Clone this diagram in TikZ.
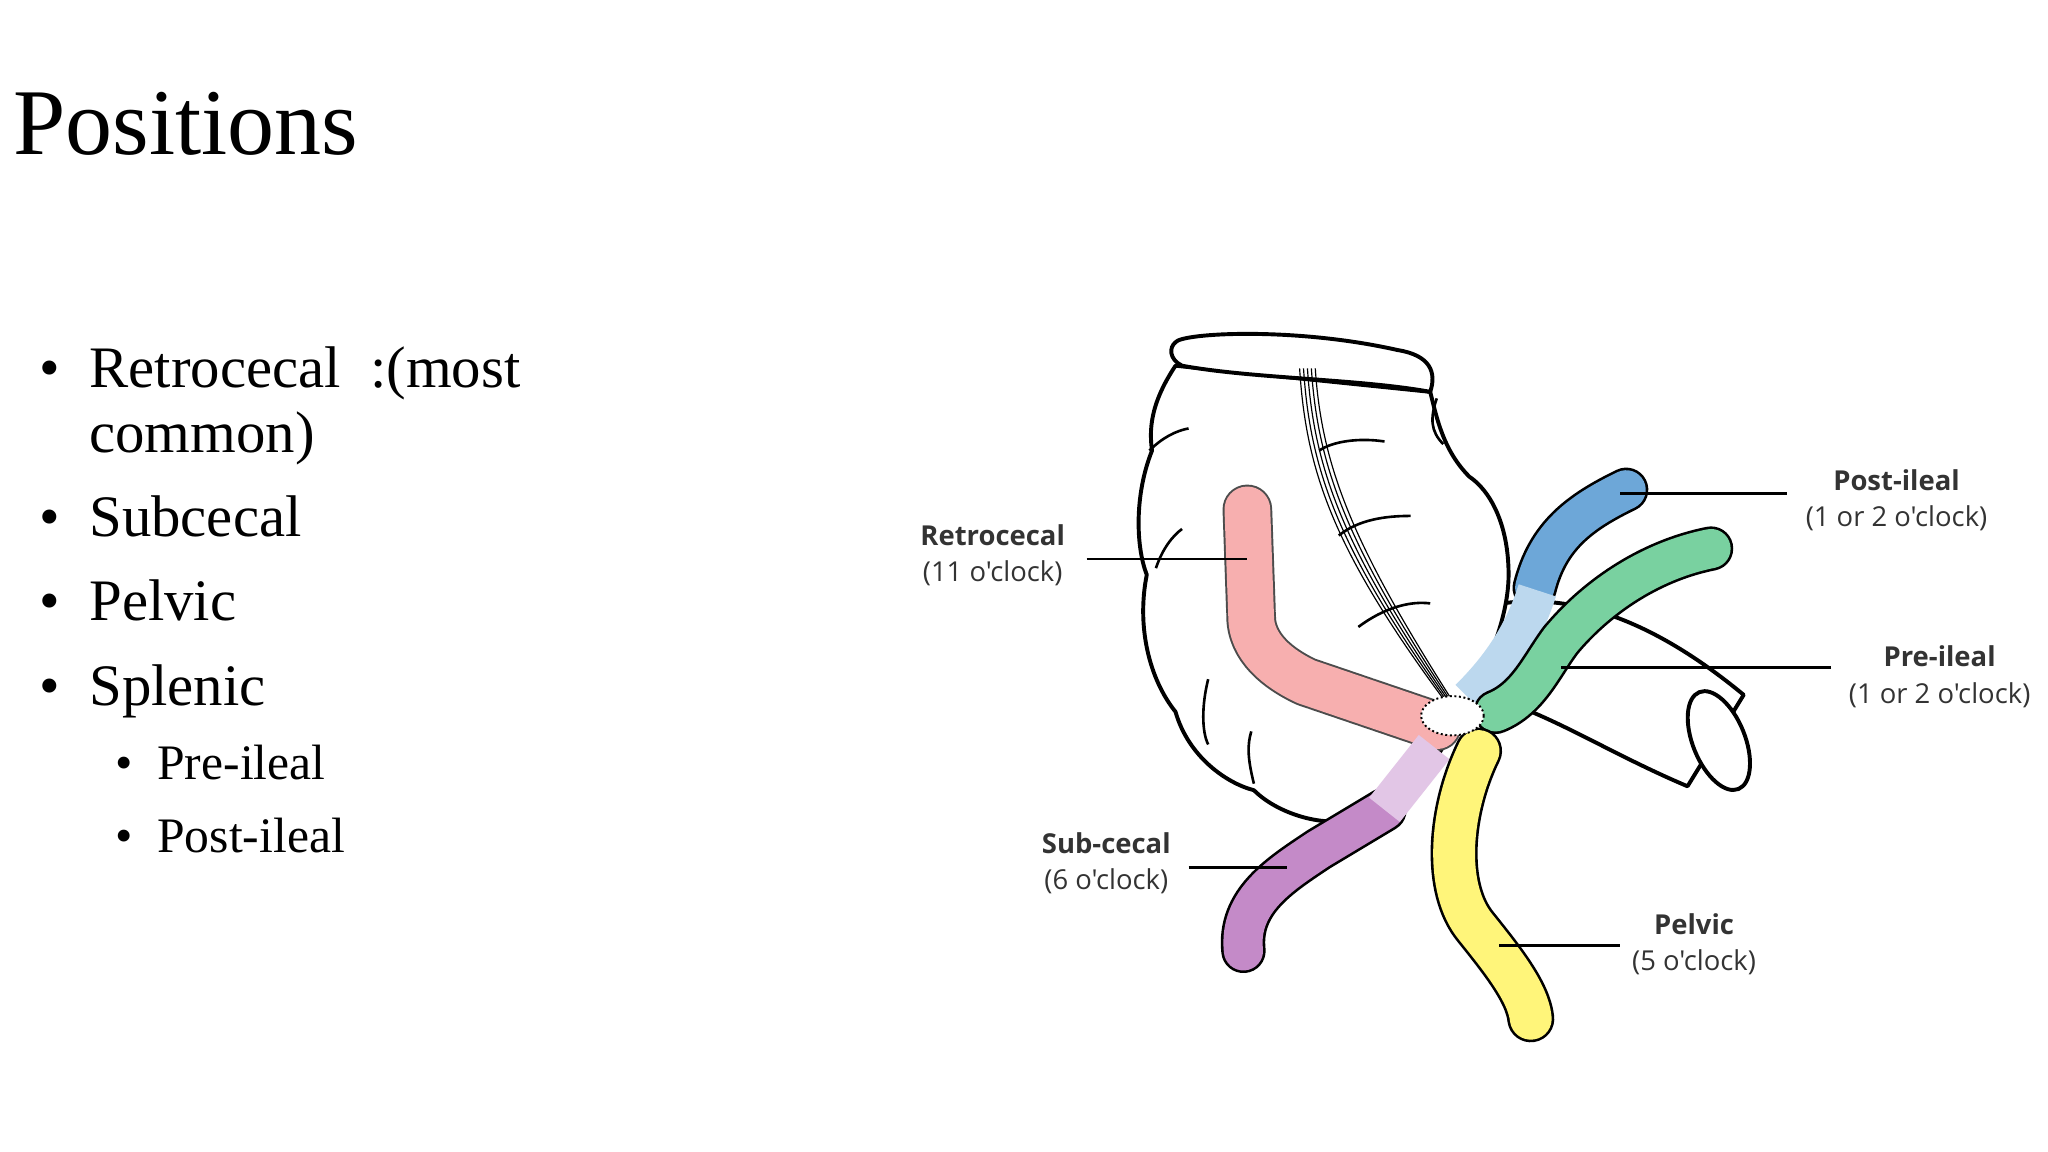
\documentclass[tikz,border=0pt]{standalone}
\usepackage{fontspec}
\setmainfont{Liberation Serif}
\newfontfamily\lab{Open Sans}
\definecolor{cpink}{HTML}{F7AFAF}
\definecolor{cblue}{HTML}{6DA7D8}
\definecolor{clblue}{HTML}{BCD8EE}
\definecolor{cgreen}{HTML}{79D1A0}
\definecolor{cpurple}{HTML}{C48AC8}
\definecolor{clpurple}{HTML}{E2C6E6}
\definecolor{cyellow}{HTML}{FFF57A}
\begin{document}
\begin{tikzpicture}[x=1pt,y=-1pt,
  lbl/.style={font=\lab\fontsize{21}{28}\selectfont,align=center,text=black!80},
  leader/.style={line width=2pt},
  outl/.style={line width=3pt,line join=round},
  app/.style={line cap=round,line join=round}]
\useasboundingbox (0,0) rectangle (1568,882);
\fill[white] (0,0) rectangle (1568,882);
\node[anchor=base west,inner sep=0,font=\fontsize{72}{80}\selectfont] (title) at (10,118) {Positions};
\node[anchor=north west,inner sep=0,align=left,font=\fontsize{45}{50}\selectfont] (list) at (30,265) {%
\textbullet\ \ Retrocecal\ \ :(most\\
\phantom{\textbullet\ \ }common)\\[14pt]
\textbullet\ \ Subcecal\\[15pt]
\textbullet\ \ Pelvic\\[15pt]
\textbullet\ \ Splenic\\[6pt]
\hspace*{58pt}{\fontsize{38}{44}\selectfont\textbullet\ \ Pre-ileal}\\[6pt]
\hspace*{58pt}{\fontsize{38}{44}\selectfont\textbullet\ \ Post-ileal}};
% ileum
\draw[outl,fill=white] (1150,462) .. controls (1200,455) and (1260,470) .. (1335,532)
  -- (1292,602) .. controls (1240,580) and (1200,555) .. (1160,540);
\draw[outl,fill=white] (1316,567) ellipse [x radius=20, y radius=40, rotate=22];
% cecum body
\draw[outl,fill=white] (900,280) .. controls (880,310) and (880,330) .. (882,345)
  .. controls (868,380) and (870,420) .. (878,440)
  .. controls (870,480) and (880,520) .. (900,545)
  .. controls (910,580) and (940,600) .. (960,605)
  .. controls (980,625) and (1020,635) .. (1040,625)
  .. controls (1070,610) and (1100,590) .. (1110,560)
  .. controls (1130,530) and (1155,480) .. (1155,440)
  .. controls (1155,400) and (1140,375) .. (1125,365)
  .. controls (1105,345) and (1100,320) .. (1095,300) -- cycle;
\draw[outl,fill=white] (900,262) .. controls (905,255) and (990,250) .. (1070,268)
  .. controls (1095,272) and (1100,285) .. (1095,300)
  .. controls (1040,290) and (960,290) .. (905,280) .. controls (895,275) and (895,266) .. (900,262);
% haustral marks
\begin{scope}[line width=2pt]
\draw (885,435) .. controls (890,420) and (898,410) .. (905,405);
\draw (880,345) .. controls (890,335) and (900,330) .. (910,328);
\draw (925,520) .. controls (920,540) and (920,560) .. (925,570);
\draw (960,600) .. controls (955,580) and (955,570) .. (958,560);
\draw (1040,480) .. controls (1060,465) and (1080,460) .. (1095,462);
\draw (1025,410) .. controls (1040,398) and (1060,395) .. (1080,395);
\draw (1010,345) .. controls (1020,338) and (1040,335) .. (1060,338);
\draw (1100,305) .. controls (1095,320) and (1095,330) .. (1105,340);
\end{scope}
% taenia
\foreach \d in {0,3,6,9,12}{
  \draw[line width=0.9pt] (995+\d,282) .. controls (1000+\d,360) and (1020+\d*1.5,420) .. (1105+\d*0.5,535);}
% retrocecal
\draw[app,line width=38pt,draw=black!70,dotted] (955,390) -- (958,475) .. controls (960,500) and (985,515) .. (1000,522) -- (1100,556);
\draw[app,line width=35pt,draw=cpink] (955,390) -- (958,475) .. controls (960,500) and (985,515) .. (1000,522) -- (1100,556);
% post-ileal
\draw[app,line width=34pt] (1245,375) .. controls (1210,392) and (1185,410) .. (1175,450);
\draw[app,line width=30pt,draw=cblue] (1245,375) .. controls (1210,392) and (1185,410) .. (1175,450);
\draw[line width=30pt,draw=clblue] (1177,452) .. controls (1165,490) and (1145,515) .. (1125,535);
% pre-ileal
\draw[app,line width=34pt] (1310,420) .. controls (1260,430) and (1220,460) .. (1195,490) .. controls (1180,510) and (1170,535) .. (1145,545);
\draw[app,line width=30pt,draw=cgreen] (1310,420) .. controls (1260,430) and (1220,460) .. (1195,490) .. controls (1180,510) and (1170,535) .. (1145,545);
% sub-cecal
\draw[app,line width=34pt] (952,728) .. controls (948,690) and (980,670) .. (1010,650) -- (1060,620);
\draw[app,line width=30pt,draw=cpurple] (952,728) .. controls (948,690) and (980,670) .. (1010,650) -- (1060,620);
\draw[line width=30pt,draw=clpurple] (1060,620) -- (1098,572);
% pelvic
\draw[app,line width=36pt] (1132,575) .. controls (1110,620) and (1105,680) .. (1130,710) .. controls (1150,735) and (1170,760) .. (1172,780);
\draw[app,line width=32pt,draw=cyellow] (1132,575) .. controls (1110,620) and (1105,680) .. (1130,710) .. controls (1150,735) and (1170,760) .. (1172,780);
% base of appendix
\fill[white] (1112,548) ellipse [x radius=24, y radius=15];
\draw[line width=1.5pt,dotted] (1112,548) ellipse [x radius=24, y radius=15];
% labels
\node[lbl] (rl) at (760,425) {\textbf{Retrocecal}\\(11 o'clock)};
\node[lbl] (pol) at (1452,383) {\textbf{Post-ileal}\\(1 or 2 o'clock)};
\node[lbl] (prl) at (1485,518) {\textbf{Pre-ileal}\\(1 or 2 o'clock)};
\node[lbl] (sl) at (847,661) {\textbf{Sub-cecal}\\(6 o'clock)};
\node[lbl] (pl) at (1297,723) {\textbf{Pelvic}\\(5 o'clock)};
\coordinate (r1) at (955,428); \coordinate (p1) at (1240,378);
\coordinate (q1) at (1195,511); \coordinate (s1) at (985,664); \coordinate (y1) at (1148,724);
\draw[leader] (832,428) -- (r1);
\draw[leader] (1368,378) -- (p1);
\draw[leader] (1402,511) -- (q1);
\draw[leader] (910,664) -- (s1);
\draw[leader] (1240,724) -- (y1);
\end{tikzpicture}
\end{document}
